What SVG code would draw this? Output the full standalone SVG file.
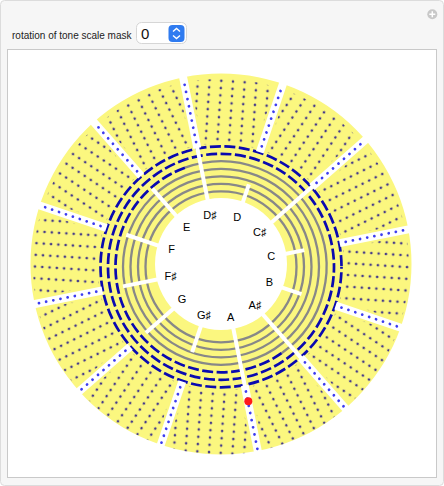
<svg xmlns="http://www.w3.org/2000/svg" width="444" height="486" viewBox="0 0 444 486">
<style>
.lbl{font-family:"Liberation Sans","DejaVu Sans",sans-serif;font-size:11px;fill:#000;text-anchor:middle}
.gapw{stroke:#fff;stroke-width:8}
.gapi{stroke:#fff;stroke-width:4}
.gapd{stroke:#3c3cf0;stroke-width:2.8;stroke-linecap:round;stroke-dasharray:0 7.3}
.gray{fill:none;stroke:#888;stroke-width:2.3}
.blue{fill:none;stroke:#0a0ab0;stroke-width:2.7;stroke-dasharray:11 3.5}
</style>
<defs>
<pattern id="dots" patternUnits="userSpaceOnUse" x="-5.85" y="-130.85" width="11.7" height="7.3">
<circle cx="5.85" cy="3.65" r="1.3" fill="#463b8a"/>
</pattern>
<path id="sector" d="M-26.13,-120.7 L-42.84,-183.06 A188,188 0 0,1 42.84,-183.06 L26.13,-120.7 A123.5,123.5 0 0,0 -26.13,-120.7 Z" fill="url(#dots)"/>
<line id="gw" class="gapw" x1="121" y1="0" x2="200" y2="0"/>
<line id="gd" class="gapd" x1="127.2" y1="0" x2="188" y2="0"/>
</defs>
<rect x="0.5" y="0.5" width="443" height="485" rx="4" fill="#f6f6f6" stroke="#dcdcdc"/>
<g id="control">
<text x="12" y="38.5" style="font-family:'Liberation Sans',sans-serif;font-size:10px;fill:#222">rotation of tone scale mask</text>
<rect x="136.5" y="22.5" width="50" height="21" rx="5" fill="#fff" stroke="#d6d6d6"/>
<text x="141" y="39" style="font-family:'Liberation Sans',sans-serif;font-size:15px;fill:#111">0</text>
<rect x="168.5" y="25" width="16" height="17" rx="4" fill="#2f7bf0"/>
<path d="M173,31.5 L176.5,28.5 L180,31.5 M173,35.5 L176.5,38.5 L180,35.5" fill="none" stroke="#fff" stroke-width="1.4"/>
</g>
<g id="plus">
<circle cx="432.3" cy="14.3" r="5" fill="#c8c8c8"/>
<path d="M432.3,11.3 V17.3 M429.3,14.3 H435.3" stroke="#fff" stroke-width="1.5"/>
</g>
<rect x="7.5" y="49.5" width="429" height="428" fill="#fff" stroke="#c9c9c9"/>
<g id="yellow" transform="translate(221,264)">
<path d="M190.5,0 A190.5,190.5 0 1,0 -190.5,0 A190.5,190.5 0 1,0 190.5,0 Z M66,0 A66,66 0 1,1 -66,0 A66,66 0 1,1 66,0 Z" fill="#fbf77f" fill-rule="evenodd"/>
</g>
<g id="wheel" transform="translate(221,266.8)">
<g id="arcs">
<circle class="gray" r="75.5"/><circle class="gray" r="83"/><circle class="gray" r="90.5"/><circle class="gray" r="98"/>
<path class="gray" d="M60.51,86.42 A105.5,105.5 0 0,0 -36.08,-99.14"/>
<path class="blue" d="M-36.08,-99.14 A105.5,105.5 0 1,0 60.51,86.42"/>
<circle class="blue" r="113" style="stroke-dashoffset:5"/>
<circle class="blue" r="120.5" style="stroke-dashoffset:9"/>
</g>
<g id="gaps">
<use href="#gw" transform="rotate(18.7)"/><use href="#gw" transform="rotate(48.7)"/><use href="#gw" transform="rotate(78.7)"/><use href="#gw" transform="rotate(108.7)"/><use href="#gw" transform="rotate(138.7)"/><use href="#gw" transform="rotate(168.7)"/><use href="#gw" transform="rotate(198.7)"/><use href="#gw" transform="rotate(228.7)"/><use href="#gw" transform="rotate(258.7)"/><use href="#gw" transform="rotate(288.7)"/><use href="#gw" transform="rotate(318.7)"/><use href="#gw" transform="rotate(348.7)"/>
<g class="gapi">
<line x1="60" y1="0" x2="85" y2="0" transform="rotate(348.7)"/>
<line x1="60" y1="0" x2="85" y2="0" transform="rotate(18.7)"/>
<line x1="60" y1="0" x2="122" y2="0" transform="rotate(48.7)"/>
<line x1="60" y1="0" x2="122" y2="0" transform="rotate(78.7)"/>
<line x1="60" y1="0" x2="90" y2="0" transform="rotate(108.7)"/>
<line x1="60" y1="0" x2="100" y2="0" transform="rotate(138.7)"/>
<line x1="60" y1="0" x2="100" y2="0" transform="rotate(168.7)"/>
<line x1="60" y1="0" x2="100" y2="0" transform="rotate(198.7)"/>
<line x1="60" y1="0" x2="104" y2="0" transform="rotate(228.7)"/>
<line x1="60" y1="0" x2="122" y2="0" transform="rotate(258.7)"/>
<line x1="60" y1="0" x2="87" y2="0" transform="rotate(288.7)"/>
<line x1="60" y1="0" x2="122" y2="0" transform="rotate(318.7)"/>
</g>
</g>
<g id="grid">
<use href="#sector" transform="rotate(3.7)"/><use href="#sector" transform="rotate(33.7)"/><use href="#sector" transform="rotate(63.7)"/><use href="#sector" transform="rotate(93.7)"/><use href="#sector" transform="rotate(123.7)"/><use href="#sector" transform="rotate(153.7)"/><use href="#sector" transform="rotate(183.7)"/><use href="#sector" transform="rotate(213.7)"/><use href="#sector" transform="rotate(243.7)"/><use href="#sector" transform="rotate(273.7)"/><use href="#sector" transform="rotate(303.7)"/><use href="#sector" transform="rotate(333.7)"/>
<use href="#gd" transform="rotate(18.7)"/><use href="#gd" transform="rotate(48.7)"/><use href="#gd" transform="rotate(78.7)"/><use href="#gd" transform="rotate(108.7)"/><use href="#gd" transform="rotate(138.7)"/><use href="#gd" transform="rotate(168.7)"/><use href="#gd" transform="rotate(198.7)"/><use href="#gd" transform="rotate(228.7)"/><use href="#gd" transform="rotate(258.7)"/><use href="#gd" transform="rotate(288.7)"/><use href="#gd" transform="rotate(318.7)"/><use href="#gd" transform="rotate(348.7)"/>
</g>
</g>
<circle id="marker" cx="248.3" cy="401.3" r="4" fill="#ff1a1a"/>
<g id="labels">
<text class="lbl" x="210" y="219">D♯</text>
<text class="lbl" x="237.3" y="220.7">D</text>
<text class="lbl" x="259.7" y="235.7">C♯</text>
<text class="lbl" x="271.3" y="259.7">C</text>
<text class="lbl" x="269.3" y="286">B</text>
<text class="lbl" x="255" y="309">A♯</text>
<text class="lbl" x="230.7" y="320.7">A</text>
<text class="lbl" x="204" y="319">G♯</text>
<text class="lbl" x="182" y="303.3">G</text>
<text class="lbl" x="170.7" y="280">F♯</text>
<text class="lbl" x="171.7" y="253.3">F</text>
<text class="lbl" x="186.7" y="231.3">E</text>
</g>
</svg>
